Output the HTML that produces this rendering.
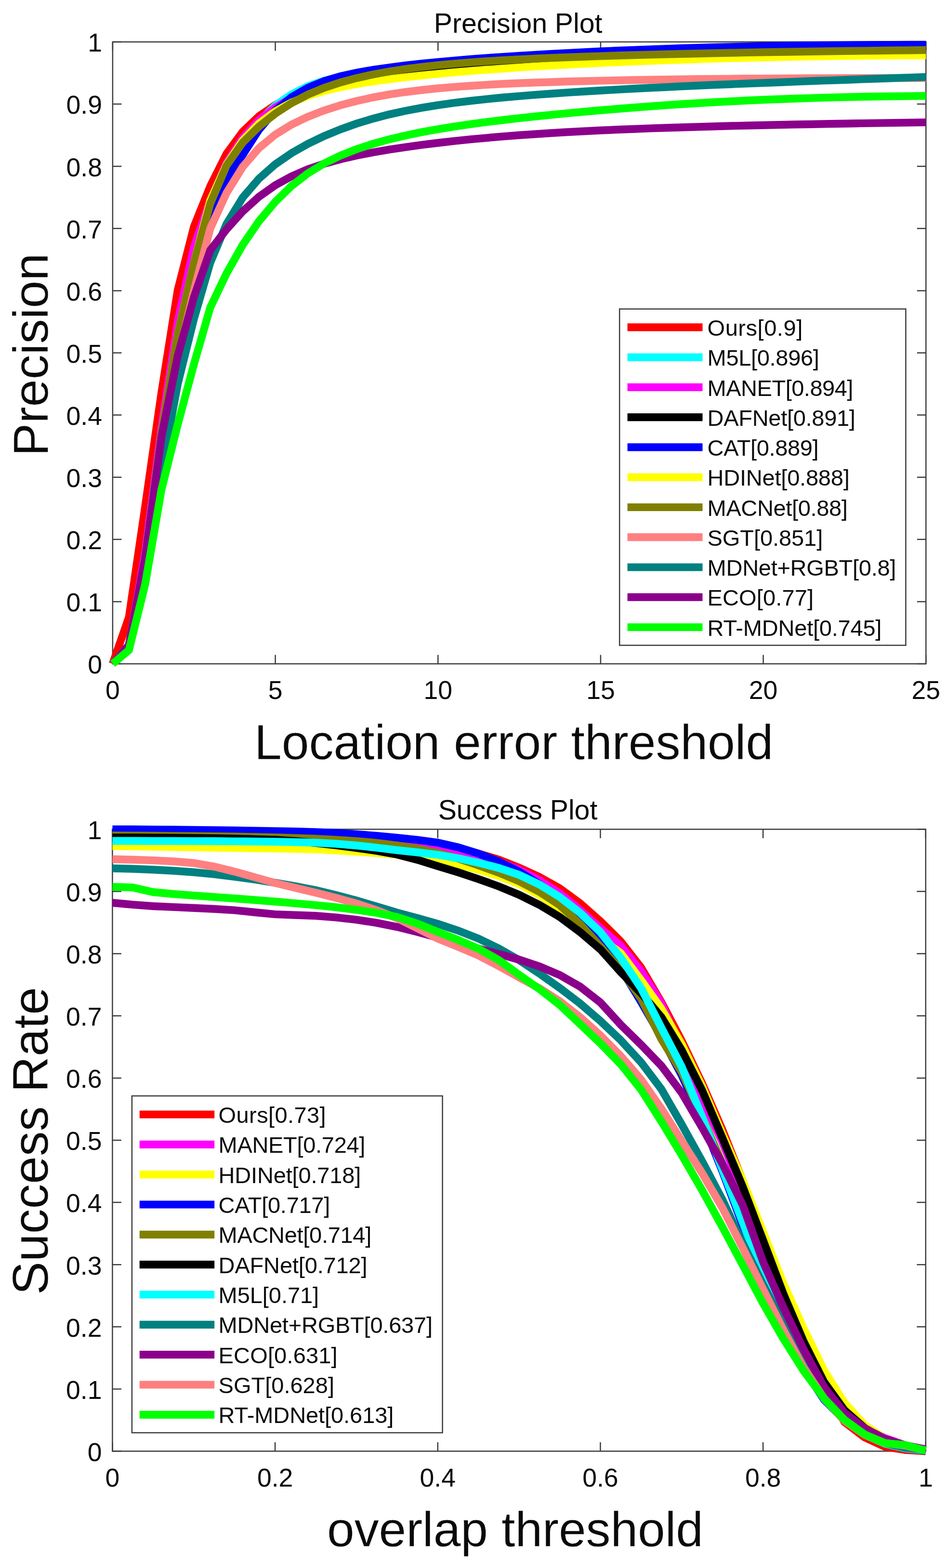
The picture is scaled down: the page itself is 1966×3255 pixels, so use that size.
<!DOCTYPE html>
<html lang="en"><head><meta charset="utf-8"><title>Precision and Success Plots</title>
<style>html,body{margin:0;padding:0;background:#fff}body{width:1966px;height:3255px;overflow:hidden}svg{display:block}text{font-family:"Liberation Sans",Arial,Helvetica,sans-serif;fill:#0a0a0a;stroke:#ffffff;stroke-linejoin:round}.tk{font-size:53.5px;stroke-width:0px}.tt{font-size:57.2px;stroke-width:0px}.al{font-size:102.5px;stroke-width:0.3px}.lg{font-size:47px;stroke-width:0px}.ax{stroke:#3c3c3c;stroke-width:2.5;fill:none}.cv{fill:none;stroke-width:16.2;stroke-linejoin:miter;stroke-linecap:butt;stroke-miterlimit:10}</style></head><body>
<svg width="1966" height="3255" viewBox="0 0 1966 3255">
<rect x="0" y="0" width="1966" height="3255" fill="#ffffff"/>
<g>
<rect class="ax" x="233.9" y="87" width="1688.4" height="1291"/>
<path class="ax" d="M233.9 1378v-18.5M233.9 87v18.5M571.6 1378v-18.5M571.6 87v18.5M909.3 1378v-18.5M909.3 87v18.5M1246.9 1378v-18.5M1246.9 87v18.5M1584.6 1378v-18.5M1584.6 87v18.5M1922.3 1378v-18.5M1922.3 87v18.5M233.9 1378h18.5M1922.3 1378h-18.5M233.9 1248.9h18.5M1922.3 1248.9h-18.5M233.9 1119.8h18.5M1922.3 1119.8h-18.5M233.9 990.7h18.5M1922.3 990.7h-18.5M233.9 861.6h18.5M1922.3 861.6h-18.5M233.9 732.5h18.5M1922.3 732.5h-18.5M233.9 603.4h18.5M1922.3 603.4h-18.5M233.9 474.3h18.5M1922.3 474.3h-18.5M233.9 345.2h18.5M1922.3 345.2h-18.5M233.9 216.1h18.5M1922.3 216.1h-18.5M233.9 87h18.5M1922.3 87h-18.5"/>
<text class="tk" text-anchor="middle" x="233.9" y="1451">0</text>
<text class="tk" text-anchor="middle" x="571.6" y="1451">5</text>
<text class="tk" text-anchor="middle" x="909.3" y="1451">10</text>
<text class="tk" text-anchor="middle" x="1246.9" y="1451">15</text>
<text class="tk" text-anchor="middle" x="1584.6" y="1451">20</text>
<text class="tk" text-anchor="middle" x="1922.3" y="1451">25</text>
<text class="tk" text-anchor="end" x="211.9" y="1398.3">0</text>
<text class="tk" text-anchor="end" x="211.9" y="1269.2">0.1</text>
<text class="tk" text-anchor="end" x="211.9" y="1140.1">0.2</text>
<text class="tk" text-anchor="end" x="211.9" y="1011">0.3</text>
<text class="tk" text-anchor="end" x="211.9" y="881.9">0.4</text>
<text class="tk" text-anchor="end" x="211.9" y="752.8">0.5</text>
<text class="tk" text-anchor="end" x="211.9" y="623.7">0.6</text>
<text class="tk" text-anchor="end" x="211.9" y="494.6">0.7</text>
<text class="tk" text-anchor="end" x="211.9" y="365.5">0.8</text>
<text class="tk" text-anchor="end" x="211.9" y="236.4">0.9</text>
<text class="tk" text-anchor="end" x="211.9" y="107.3">1</text>
<text class="tt" text-anchor="middle" x="1075.6" y="67.8">Precision Plot</text>
<text class="al" text-anchor="middle" style="font-size:102.0px" x="1066.6" y="1575.8">Location error threshold</text>
<text class="al" text-anchor="middle" transform="translate(98.8 736.2) rotate(-90)">Precision</text>
<polyline class="cv" stroke="#ff0000" points="233.9,1378 267.7,1281.2 301.4,1051.4 335.2,815.1 369,602.1 402.7,470.4 436.5,386.5 470.3,319.2 504,273.3 537.8,241.1 571.6,218 605.3,200.9 639.1,188.1 672.9,178.2 706.7,170.3 740.4,163.9 774.2,158.6 808,153.9 841.7,149.7 875.5,145.9 909.3,142.4 943,139.2 976.8,136.3 1010.6,133.7 1044.3,131.2 1078.1,128.9 1111.9,126.8 1145.6,124.8 1179.4,122.9 1213.2,121.2 1246.9,119.6 1280.7,118.1 1314.5,116.7 1348.2,115.4 1382,114.2 1415.8,113.1 1449.5,112.1 1483.3,111.2 1517.1,110.3 1550.9,109.5 1584.6,108.8 1618.4,108.2 1652.2,107.6 1685.9,107.1 1719.7,106.7 1753.5,106.3 1787.2,105.9 1821,105.6 1854.8,105.4 1888.5,105.2 1922.3,105.1"/>
<polyline class="cv" stroke="#00ffff" points="233.9,1378 267.7,1339.3 301.4,1158.5 335.2,913.2 369,706.7 402.7,551.8 436.5,442 470.3,358.7 504,296.8 537.8,251.6 571.6,219 605.3,195.7 639.1,179.1 672.9,167.5 706.7,159.2 740.4,153.1 774.2,148.3 808,144.2 841.7,140.4 875.5,137 909.3,133.7 943,130.7 976.8,127.9 1010.6,125.3 1044.3,122.9 1078.1,120.7 1111.9,118.6 1145.6,116.6 1179.4,114.8 1213.2,113.1 1246.9,111.6 1280.7,110.1 1314.5,108.8 1348.2,107.5 1382,106.4 1415.8,105.3 1449.5,104.3 1483.3,103.4 1517.1,102.6 1550.9,101.8 1584.6,101.2 1618.4,100.5 1652.2,100 1685.9,99.5 1719.7,99 1753.5,98.6 1787.2,98.3 1821,98 1854.8,97.7 1888.5,97.5 1922.3,97.3"/>
<polyline class="cv" stroke="#ff00ff" points="233.9,1378 267.7,1339.3 301.4,1145.6 335.2,887.4 369,667.9 402.7,513 436.5,416.2 470.3,338.6 504,286 537.8,249.3 571.6,223 605.3,203.8 639.1,189.5 672.9,178.6 706.7,170.1 740.4,163.3 774.2,157.6 808,152.6 841.7,148.2 875.5,144.2 909.3,140.6 943,137.3 976.8,134.2 1010.6,131.4 1044.3,128.8 1078.1,126.3 1111.9,124 1145.6,121.8 1179.4,119.7 1213.2,117.8 1246.9,115.9 1280.7,114.2 1314.5,112.5 1348.2,110.9 1382,109.5 1415.8,108.1 1449.5,106.8 1483.3,105.6 1517.1,104.5 1550.9,103.5 1584.6,102.5 1618.4,101.7 1652.2,100.9 1685.9,100.2 1719.7,99.5 1753.5,98.9 1787.2,98.4 1821,98 1854.8,97.6 1888.5,97.3 1922.3,97"/>
<polyline class="cv" stroke="#000000" points="233.9,1378 267.7,1339.3 301.4,1158.5 335.2,913.2 369,706.7 402.7,564.7 436.5,438.2 470.3,360.4 504,306.1 537.8,263.8 571.6,232.3 605.3,209.8 639.1,194.2 672.9,183.8 706.7,176.1 740.4,169.2 774.2,162.1 808,155.3 841.7,149.5 875.5,144.6 909.3,140.4 943,136.9 976.8,133.8 1010.6,131.1 1044.3,128.8 1078.1,126.7 1111.9,124.9 1145.6,123.2 1179.4,121.7 1213.2,120.3 1246.9,119.1 1280.7,117.9 1314.5,116.8 1348.2,115.8 1382,114.9 1415.8,114 1449.5,113.2 1483.3,112.4 1517.1,111.7 1550.9,111 1584.6,110.3 1618.4,109.7 1652.2,109.1 1685.9,108.5 1719.7,107.9 1753.5,107.4 1787.2,106.8 1821,106.3 1854.8,105.8 1888.5,105.3 1922.3,104.8"/>
<polyline class="cv" stroke="#0000ff" points="233.9,1378 267.7,1339.3 301.4,1158.5 335.2,926.2 369,732.5 402.7,590.5 436.5,445.9 470.3,373 504,321.2 537.8,268.9 571.6,229.3 605.3,201.7 639.1,182.3 672.9,168.4 706.7,158.4 740.4,150.9 774.2,145 808,140.2 841.7,135.9 875.5,132.1 909.3,128.8 943,125.7 976.8,122.9 1010.6,120.3 1044.3,118 1078.1,115.8 1111.9,113.8 1145.6,111.8 1179.4,110 1213.2,108.3 1246.9,106.7 1280.7,105.2 1314.5,103.8 1348.2,102.5 1382,101.3 1415.8,100.1 1449.5,99.1 1483.3,98.2 1517.1,97.3 1550.9,96.5 1584.6,95.8 1618.4,95.2 1652.2,94.7 1685.9,94.2 1719.7,93.8 1753.5,93.5 1787.2,93.3 1821,93.1 1854.8,93 1888.5,92.9 1922.3,92.9"/>
<polyline class="cv" stroke="#ffff00" points="233.9,1378 267.7,1339.3 301.4,1158.5 335.2,900.3 369,693.8 402.7,545.3 436.5,416.2 470.3,341.8 504,291.3 537.8,256.2 571.6,231.1 605.3,212.8 639.1,199.2 672.9,188.9 706.7,180.9 740.4,174.4 774.2,169 808,164.4 841.7,160.3 875.5,156.6 909.3,153.2 943,150.1 976.8,147.3 1010.6,144.7 1044.3,142.3 1078.1,140 1111.9,137.9 1145.6,135.9 1179.4,134.1 1213.2,132.3 1246.9,130.7 1280.7,129.1 1314.5,127.7 1348.2,126.3 1382,125 1415.8,123.8 1449.5,122.7 1483.3,121.7 1517.1,120.7 1550.9,119.9 1584.6,119.1 1618.4,118.3 1652.2,117.7 1685.9,117.1 1719.7,116.6 1753.5,116.1 1787.2,115.7 1821,115.4 1854.8,115.1 1888.5,114.8 1922.3,114.7"/>
<polyline class="cv" stroke="#808000" points="233.9,1378 267.7,1339.3 301.4,1158.5 335.2,900.3 369,693.8 402.7,545.3 436.5,422.7 470.3,343.6 504,295.8 537.8,262.5 571.6,235.8 605.3,214 639.1,196.3 672.9,182.3 706.7,171.1 740.4,162 774.2,154.6 808,148.4 841.7,143.3 875.5,139 909.3,135.3 943,132.2 976.8,129.5 1010.6,127.2 1044.3,125.1 1078.1,123.3 1111.9,121.7 1145.6,120.2 1179.4,118.9 1213.2,117.7 1246.9,116.5 1280.7,115.4 1314.5,114.4 1348.2,113.5 1382,112.6 1415.8,111.8 1449.5,111.1 1483.3,110.4 1517.1,109.7 1550.9,109 1584.6,108.4 1618.4,107.9 1652.2,107.3 1685.9,106.8 1719.7,106.4 1753.5,105.9 1787.2,105.5 1821,105.1 1854.8,104.7 1888.5,104.3 1922.3,103.9"/>
<polyline class="cv" stroke="#ff8080" points="233.9,1378 267.7,1339.3 301.4,1171.4 335.2,939.1 369,745.4 402.7,603.4 436.5,474.3 470.3,400.5 504,346.2 537.8,307.3 571.6,279.3 605.3,258.6 639.1,242.4 672.9,229.3 706.7,218.5 740.4,209.6 774.2,202.2 808,196.1 841.7,191.1 875.5,186.9 909.3,183.4 943,180.5 976.8,178.1 1010.6,176 1044.3,174.2 1078.1,172.7 1111.9,171.4 1145.6,170.3 1179.4,169.2 1213.2,168.3 1246.9,167.5 1280.7,166.8 1314.5,166.2 1348.2,165.6 1382,165.1 1415.8,164.6 1449.5,164.2 1483.3,163.8 1517.1,163.5 1550.9,163.2 1584.6,163 1618.4,162.8 1652.2,162.6 1685.9,162.4 1719.7,162.3 1753.5,162.2 1787.2,162.1 1821,162.1 1854.8,162 1888.5,162 1922.3,162"/>
<polyline class="cv" stroke="#008080" points="233.9,1378 267.7,1339.3 301.4,1184.3 335.2,977.8 369,797 402.7,661.5 436.5,545.3 470.3,465 504,410 537.8,370.6 571.6,341 605.3,317.8 639.1,298.7 672.9,282.5 706.7,268.5 740.4,256.5 774.2,246.3 808,237.5 841.7,230.1 875.5,223.8 909.3,218.3 943,213.5 976.8,209.4 1010.6,205.7 1044.3,202.4 1078.1,199.5 1111.9,196.8 1145.6,194.3 1179.4,192 1213.2,189.9 1246.9,187.9 1280.7,186 1314.5,184.2 1348.2,182.4 1382,180.8 1415.8,179.2 1449.5,177.7 1483.3,176.2 1517.1,174.8 1550.9,173.4 1584.6,172.1 1618.4,170.8 1652.2,169.5 1685.9,168.2 1719.7,167 1753.5,165.8 1787.2,164.5 1821,163.4 1854.8,162.2 1888.5,161 1922.3,159.8"/>
<polyline class="cv" stroke="#8b008b" points="233.9,1378 267.7,1339.3 301.4,1158.5 335.2,906.8 369,739 402.7,616.3 436.5,519.5 470.3,476 504,438.6 537.8,408.3 571.6,384.5 605.3,366 639.1,351.4 672.9,339.9 706.7,330.6 740.4,322.9 774.2,316.4 808,310.6 841.7,305.5 875.5,300.8 909.3,296.6 943,292.8 976.8,289.3 1010.6,286.2 1044.3,283.3 1078.1,280.7 1111.9,278.3 1145.6,276.1 1179.4,274.2 1213.2,272.4 1246.9,270.7 1280.7,269.2 1314.5,267.8 1348.2,266.5 1382,265.4 1415.8,264.3 1449.5,263.3 1483.3,262.3 1517.1,261.4 1550.9,260.6 1584.6,259.8 1618.4,259.1 1652.2,258.4 1685.9,257.8 1719.7,257.2 1753.5,256.6 1787.2,256 1821,255.5 1854.8,255 1888.5,254.5 1922.3,254"/>
<polyline class="cv" stroke="#00ff00" points="233.9,1378 267.7,1349.6 301.4,1212.8 335.2,1016.5 369,881 402.7,755.7 436.5,638.3 470.3,567.4 504,508.1 537.8,459 571.6,418.7 605.3,386 639.1,359.9 672.9,339.3 706.7,322.9 740.4,309.6 774.2,298.6 808,289.3 841.7,281.3 875.5,274.3 909.3,268.2 943,262.7 976.8,257.7 1010.6,253.2 1044.3,249.1 1078.1,245.2 1111.9,241.6 1145.6,238.2 1179.4,235 1213.2,231.9 1246.9,228.9 1280.7,226.1 1314.5,223.4 1348.2,220.8 1382,218.4 1415.8,216.2 1449.5,214.1 1483.3,212.2 1517.1,210.4 1550.9,208.7 1584.6,207.2 1618.4,205.8 1652.2,204.6 1685.9,203.5 1719.7,202.5 1753.5,201.7 1787.2,200.9 1821,200.3 1854.8,199.8 1888.5,199.5 1922.3,199.2"/>
<rect x="1286.2" y="641.4" width="594.2" height="698.2" fill="#ffffff" stroke="#3c3c3c" stroke-width="2.5"/>
<line x1="1302.6" y1="679.4" x2="1458.5" y2="679.4" stroke="#ff0000" stroke-width="16.2"/>
<text class="lg" x="1468.6" y="697" style="letter-spacing:0.537px">Ours[0.9]</text>
<line x1="1302.6" y1="741.7" x2="1458.5" y2="741.7" stroke="#00ffff" stroke-width="16.2"/>
<text class="lg" x="1468.6" y="759.3" style="letter-spacing:-0.322px">M5L[0.896]</text>
<line x1="1302.6" y1="803.9" x2="1458.5" y2="803.9" stroke="#ff00ff" stroke-width="16.2"/>
<text class="lg" x="1468.6" y="821.5" style="letter-spacing:-0.491px">MANET[0.894]</text>
<line x1="1302.6" y1="866.2" x2="1458.5" y2="866.2" stroke="#000000" stroke-width="16.2"/>
<text class="lg" x="1468.6" y="883.8" style="letter-spacing:-0.300px">DAFNet[0.891]</text>
<line x1="1302.6" y1="928.4" x2="1458.5" y2="928.4" stroke="#0000ff" stroke-width="16.2"/>
<text class="lg" x="1468.6" y="946" style="letter-spacing:-0.356px">CAT[0.889]</text>
<line x1="1302.6" y1="990.7" x2="1458.5" y2="990.7" stroke="#ffff00" stroke-width="16.2"/>
<text class="lg" x="1468.6" y="1008.3" style="letter-spacing:-0.225px">HDINet[0.888]</text>
<line x1="1302.6" y1="1053" x2="1458.5" y2="1053" stroke="#808000" stroke-width="16.2"/>
<text class="lg" x="1468.6" y="1070.6" style="letter-spacing:-0.364px">MACNet[0.88]</text>
<line x1="1302.6" y1="1115.2" x2="1458.5" y2="1115.2" stroke="#ff8080" stroke-width="16.2"/>
<text class="lg" x="1468.6" y="1132.8" style="letter-spacing:-0.078px">SGT[0.851]</text>
<line x1="1302.6" y1="1177.5" x2="1458.5" y2="1177.5" stroke="#008080" stroke-width="16.2"/>
<text class="lg" x="1468.6" y="1195.1" style="letter-spacing:-0.279px">MDNet+RGBT[0.8]</text>
<line x1="1302.6" y1="1239.7" x2="1458.5" y2="1239.7" stroke="#8b008b" stroke-width="16.2"/>
<text class="lg" x="1468.6" y="1257.3" style="letter-spacing:0.113px">ECO[0.77]</text>
<line x1="1302.6" y1="1302" x2="1458.5" y2="1302" stroke="#00ff00" stroke-width="16.2"/>
<text class="lg" x="1468.6" y="1319.6" style="letter-spacing:-0.214px">RT-MDNet[0.745]</text>
</g>
<g>
<rect class="ax" x="233.4" y="1721.5" width="1688.4" height="1291"/>
<path class="ax" d="M233.4 3012.5v-18.5M233.4 1721.5v18.5M571.1 3012.5v-18.5M571.1 1721.5v18.5M908.8 3012.5v-18.5M908.8 1721.5v18.5M1246.4 3012.5v-18.5M1246.4 1721.5v18.5M1584.1 3012.5v-18.5M1584.1 1721.5v18.5M1921.8 3012.5v-18.5M1921.8 1721.5v18.5M233.4 3012.5h18.5M1921.8 3012.5h-18.5M233.4 2883.4h18.5M1921.8 2883.4h-18.5M233.4 2754.3h18.5M1921.8 2754.3h-18.5M233.4 2625.2h18.5M1921.8 2625.2h-18.5M233.4 2496.1h18.5M1921.8 2496.1h-18.5M233.4 2367h18.5M1921.8 2367h-18.5M233.4 2237.9h18.5M1921.8 2237.9h-18.5M233.4 2108.8h18.5M1921.8 2108.8h-18.5M233.4 1979.7h18.5M1921.8 1979.7h-18.5M233.4 1850.6h18.5M1921.8 1850.6h-18.5M233.4 1721.5h18.5M1921.8 1721.5h-18.5"/>
<text class="tk" text-anchor="middle" x="233.4" y="3085.5">0</text>
<text class="tk" text-anchor="middle" x="571.1" y="3085.5">0.2</text>
<text class="tk" text-anchor="middle" x="908.8" y="3085.5">0.4</text>
<text class="tk" text-anchor="middle" x="1246.4" y="3085.5">0.6</text>
<text class="tk" text-anchor="middle" x="1584.1" y="3085.5">0.8</text>
<text class="tk" text-anchor="middle" x="1921.8" y="3085.5">1</text>
<text class="tk" text-anchor="end" x="211.4" y="3032.8">0</text>
<text class="tk" text-anchor="end" x="211.4" y="2903.7">0.1</text>
<text class="tk" text-anchor="end" x="211.4" y="2774.6">0.2</text>
<text class="tk" text-anchor="end" x="211.4" y="2645.5">0.3</text>
<text class="tk" text-anchor="end" x="211.4" y="2516.4">0.4</text>
<text class="tk" text-anchor="end" x="211.4" y="2387.3">0.5</text>
<text class="tk" text-anchor="end" x="211.4" y="2258.2">0.6</text>
<text class="tk" text-anchor="end" x="211.4" y="2129.1">0.7</text>
<text class="tk" text-anchor="end" x="211.4" y="2000">0.8</text>
<text class="tk" text-anchor="end" x="211.4" y="1870.9">0.9</text>
<text class="tk" text-anchor="end" x="211.4" y="1741.8">1</text>
<text class="tt" text-anchor="middle" x="1075" y="1701">Success Plot</text>
<text class="al" text-anchor="middle" style="font-size:101.8px" x="1069.5" y="3210.2">overlap threshold</text>
<text class="al" text-anchor="middle" style="font-size:103.6px" transform="translate(98.9 2368.5) rotate(-90)">Success Rate</text>
<polyline class="cv" stroke="#ff0000" points="233.4,1740.9 275.6,1741.1 317.8,1741.4 360,1741.7 402.2,1742.2 444.4,1742.7 486.7,1743.3 528.9,1744.1 571.1,1744.7 613.3,1745.3 655.5,1745.8 697.7,1746.5 739.9,1747.3 782.1,1748.9 824.3,1751.2 866.5,1754.5 908.8,1758.9 951,1764.4 993.2,1771.8 1035.4,1784.4 1077.6,1801.3 1119.8,1820.5 1162,1844.1 1204.2,1875.1 1246.4,1912.3 1288.7,1954.3 1330.9,2008.6 1373.1,2080.5 1415.3,2160.6 1457.5,2248.9 1499.7,2345.4 1541.9,2451.5 1584.1,2565.9 1626.3,2674.7 1668.5,2775.4 1710.8,2880 1753,2951.8 1795.2,2984.1 1837.4,3003.5 1879.6,3009.9 1921.8,3012.5"/>
<polyline class="cv" stroke="#ff00ff" points="233.4,1734.4 275.6,1734.6 317.8,1734.9 360,1735.3 402.2,1735.7 444.4,1736.2 486.7,1736.8 528.9,1737.5 571.1,1738.3 613.3,1739 655.5,1739.8 697.7,1740.8 739.9,1742.2 782.1,1744.8 824.3,1748.6 866.5,1753.1 908.8,1758.9 951,1766.9 993.2,1777 1035.4,1789.5 1077.6,1805.4 1119.8,1827.1 1162,1854.5 1204.2,1888.8 1246.4,1927 1288.7,1963.3 1330.9,2016 1373.1,2083.2 1415.3,2179.8 1457.5,2281.1 1499.7,2370.9 1541.9,2474.8 1584.1,2582.6 1626.3,2687.1 1668.5,2785.4 1710.8,2875.2 1753,2929.9 1795.2,2963 1837.4,2985.4 1879.6,3000.2 1921.8,3008.6"/>
<polyline class="cv" stroke="#ffff00" points="233.4,1756.4 275.6,1757 317.8,1757.6 360,1758.3 402.2,1758.9 444.4,1759.6 486.7,1760.2 528.9,1760.8 571.1,1761.5 613.3,1762.2 655.5,1763.2 697.7,1765.2 739.9,1768 782.1,1770.9 824.3,1774.4 866.5,1779.5 908.8,1786 951,1794.6 993.2,1805.4 1035.4,1818.5 1077.6,1835.1 1119.8,1858 1162,1885.5 1204.2,1915.6 1246.4,1947.4 1288.7,1978.5 1330.9,2034.8 1373.1,2094 1415.3,2167.7 1457.5,2254.7 1499.7,2354 1541.9,2450.6 1584.1,2557.1 1626.3,2664.4 1668.5,2757.9 1710.8,2844.7 1753,2911.8 1795.2,2958.3 1837.4,2986.7 1879.6,3002.5 1921.8,3009.9"/>
<polyline class="cv" stroke="#0000ff" points="233.4,1721.5 275.6,1721.7 317.8,1722 360,1722.4 402.2,1722.8 444.4,1723.3 486.7,1723.9 528.9,1724.6 571.1,1725.4 613.3,1726.2 655.5,1727.3 697.7,1729.2 739.9,1731.8 782.1,1735.1 824.3,1739.1 866.5,1743.5 908.8,1749.3 951,1758.8 993.2,1771.8 1035.4,1788.4 1077.6,1809.3 1119.8,1835.3 1162,1866.1 1204.2,1898.7 1246.4,1941 1288.7,2010.1 1330.9,2079.8 1373.1,2153.1 1415.3,2232.1 1457.5,2326.2 1499.7,2431.4 1541.9,2544 1584.1,2655 1626.3,2754.3 1668.5,2841.5 1710.8,2905.5 1753,2947.9 1795.2,2977.1 1837.4,2995.7 1879.6,3005.6 1921.8,3009.9"/>
<polyline class="cv" stroke="#808000" points="233.4,1734.4 275.6,1734.6 317.8,1734.9 360,1735.3 402.2,1735.7 444.4,1736.2 486.7,1736.7 528.9,1737.4 571.1,1738.3 613.3,1739.5 655.5,1741.2 697.7,1743.4 739.9,1746 782.1,1749.8 824.3,1755.1 866.5,1761.8 908.8,1770.6 951,1782.3 993.2,1796.4 1035.4,1811.6 1077.6,1829.4 1119.8,1851.3 1162,1879 1204.2,1918.3 1246.4,1964.6 1288.7,2013.2 1330.9,2072.9 1373.1,2157.4 1415.3,2225.7 1457.5,2318.2 1499.7,2416 1541.9,2518.9 1584.1,2638 1626.3,2736.3 1668.5,2824.6 1710.8,2895 1753,2941.5 1795.2,2972.8 1837.4,2993.1 1879.6,3004.7 1921.8,3009.9"/>
<polyline class="cv" stroke="#000000" points="233.4,1738.5 275.6,1738.6 317.8,1738.9 360,1739.2 402.2,1739.6 444.4,1740.1 486.7,1740.9 528.9,1742 571.1,1743.4 613.3,1746.1 655.5,1749.9 697.7,1754.6 739.9,1760.2 782.1,1766.3 824.3,1773.8 866.5,1784.8 908.8,1797.9 951,1810.8 993.2,1824.8 1035.4,1840 1077.6,1857.4 1119.8,1878.4 1162,1903.5 1204.2,1934.9 1246.4,1970.7 1288.7,2017.9 1330.9,2061.5 1373.1,2111.6 1415.3,2180.3 1457.5,2263.3 1499.7,2362.2 1541.9,2463.5 1584.1,2574.5 1626.3,2685.8 1668.5,2785.2 1710.8,2869.1 1753,2927.3 1795.2,2964.4 1837.4,2989.3 1879.6,3004.6 1921.8,3012.5"/>
<polyline class="cv" stroke="#00ffff" points="233.4,1745.6 275.6,1745.7 317.8,1745.8 360,1745.9 402.2,1746 444.4,1746.2 486.7,1746.5 528.9,1746.9 571.1,1747.3 613.3,1748.1 655.5,1749.3 697.7,1751.6 739.9,1755.1 782.1,1759.7 824.3,1764.9 866.5,1769.4 908.8,1774.4 951,1781.7 993.2,1790.8 1035.4,1801.8 1077.6,1816 1119.8,1836.1 1162,1862.2 1204.2,1894.8 1246.4,1935 1288.7,1988.2 1330.9,2051.2 1373.1,2133.7 1415.3,2214.6 1457.5,2318.7 1499.7,2427.7 1541.9,2537 1584.1,2649.7 1626.3,2750.7 1668.5,2838.1 1710.8,2903.8 1753,2948.6 1795.2,2978.3 1837.4,2997 1879.6,3006.8 1921.8,3011.2"/>
<polyline class="cv" stroke="#008080" points="233.4,1802.6 275.6,1803.7 317.8,1805.4 360,1807.6 402.2,1810.6 444.4,1814.7 486.7,1819.9 528.9,1825.8 571.1,1832.5 613.3,1839.8 655.5,1848 697.7,1858.1 739.9,1869.4 782.1,1881.8 824.3,1894.5 866.5,1905.8 908.8,1917.7 951,1931.8 993.2,1948.3 1035.4,1968.9 1077.6,1993 1119.8,2021 1162,2050.9 1204.2,2083.1 1246.4,2119.3 1288.7,2159.4 1330.9,2205.2 1373.1,2261.1 1415.3,2334.4 1457.5,2410.4 1499.7,2490.4 1541.9,2580.8 1584.1,2666.8 1626.3,2745.9 1668.5,2831.5 1710.8,2901.6 1753,2947.9 1795.2,2977.3 1837.4,2995.7 1879.6,3005.6 1921.8,3009.9"/>
<polyline class="cv" stroke="#8b008b" points="233.4,1874.1 275.6,1878 317.8,1881.1 360,1883 402.2,1884.8 444.4,1886.9 486.7,1889.5 528.9,1893.9 571.1,1898 613.3,1899.6 655.5,1901.2 697.7,1904.5 739.9,1909.2 782.1,1915.8 824.3,1924.2 866.5,1934.6 908.8,1946.1 951,1957.7 993.2,1969.4 1035.4,1980.4 1077.6,1992.1 1119.8,2006.1 1162,2024 1204.2,2048.1 1246.4,2081 1288.7,2127.3 1330.9,2168.6 1373.1,2212.6 1415.3,2268.7 1457.5,2340.5 1499.7,2415.7 1541.9,2501.6 1584.1,2619.3 1626.3,2714.4 1668.5,2801.3 1710.8,2879.3 1753,2932.5 1795.2,2965 1837.4,2986.7 1879.6,3000.8 1921.8,3008.6"/>
<polyline class="cv" stroke="#ff8080" points="233.4,1783.7 275.6,1784.6 317.8,1786 360,1788.2 402.2,1791.6 444.4,1799 486.7,1809.3 528.9,1821 571.1,1833 613.3,1843.2 655.5,1853.2 697.7,1863.8 739.9,1875.5 782.1,1889.6 824.3,1906.1 866.5,1926.9 908.8,1948.3 951,1965.4 993.2,1983.4 1035.4,2005.4 1077.6,2028.8 1119.8,2051.5 1162,2078.4 1204.2,2111.5 1246.4,2149.4 1288.7,2192.2 1330.9,2241 1373.1,2301.6 1415.3,2368.6 1457.5,2435 1499.7,2507.1 1541.9,2590.1 1584.1,2676.1 1626.3,2760.7 1668.5,2839.2 1710.8,2903 1753,2949.2 1795.2,2978.5 1837.4,2995.7 1879.6,3000.9 1921.8,3011.2"/>
<polyline class="cv" stroke="#00ff00" points="233.4,1841 275.6,1842.3 317.8,1851.9 360,1855.9 402.2,1859 444.4,1862.1 486.7,1865.1 528.9,1868.3 571.1,1871.6 613.3,1875.2 655.5,1879 697.7,1883.4 739.9,1888.6 782.1,1895 824.3,1903.5 866.5,1917.4 908.8,1934.5 951,1951.3 993.2,1969.4 1035.4,1992.9 1077.6,2023.6 1119.8,2053.2 1162,2086 1204.2,2125.8 1246.4,2165.8 1288.7,2209.3 1330.9,2261.9 1373.1,2328.1 1415.3,2397.7 1457.5,2470.6 1499.7,2547.1 1541.9,2626.1 1584.1,2705.6 1626.3,2779.1 1668.5,2846 1710.8,2902.7 1753,2947.3 1795.2,2977.9 1837.4,2995.7 1879.6,2999.8 1921.8,3011.2"/>
<rect x="273.9" y="2275" width="644.7" height="699.2" fill="#ffffff" stroke="#3c3c3c" stroke-width="2.5"/>
<line x1="289.7" y1="2313.5" x2="445.2" y2="2313.5" stroke="#ff0000" stroke-width="16.2"/>
<text class="lg" x="453.6" y="2331.1" style="letter-spacing:0.400px">Ours[0.73]</text>
<line x1="289.7" y1="2375.8" x2="445.2" y2="2375.8" stroke="#ff00ff" stroke-width="16.2"/>
<text class="lg" x="453.6" y="2393.4" style="letter-spacing:-0.318px">MANET[0.724]</text>
<line x1="289.7" y1="2438.2" x2="445.2" y2="2438.2" stroke="#ffff00" stroke-width="16.2"/>
<text class="lg" x="453.6" y="2455.8" style="letter-spacing:-0.183px">HDINet[0.718]</text>
<line x1="289.7" y1="2500.5" x2="445.2" y2="2500.5" stroke="#0000ff" stroke-width="16.2"/>
<text class="lg" x="453.6" y="2518.1" style="letter-spacing:-0.289px">CAT[0.717]</text>
<line x1="289.7" y1="2562.8" x2="445.2" y2="2562.8" stroke="#808000" stroke-width="16.2"/>
<text class="lg" x="453.6" y="2580.4" style="letter-spacing:-0.308px">MACNet[0.714]</text>
<line x1="289.7" y1="2625.2" x2="445.2" y2="2625.2" stroke="#000000" stroke-width="16.2"/>
<text class="lg" x="453.6" y="2642.8" style="letter-spacing:-0.158px">DAFNet[0.712]</text>
<line x1="289.7" y1="2687.5" x2="445.2" y2="2687.5" stroke="#00ffff" stroke-width="16.2"/>
<text class="lg" x="453.6" y="2705.1" style="letter-spacing:-0.062px">M5L[0.71]</text>
<line x1="289.7" y1="2749.8" x2="445.2" y2="2749.8" stroke="#008080" stroke-width="16.2"/>
<text class="lg" x="453.6" y="2767.4" style="letter-spacing:-0.225px">MDNet+RGBT[0.637]</text>
<line x1="289.7" y1="2812.1" x2="445.2" y2="2812.1" stroke="#8b008b" stroke-width="16.2"/>
<text class="lg" x="453.6" y="2829.7" style="letter-spacing:0.156px">ECO[0.631]</text>
<line x1="289.7" y1="2874.5" x2="445.2" y2="2874.5" stroke="#ff8080" stroke-width="16.2"/>
<text class="lg" x="453.6" y="2892.1" style="letter-spacing:0.000px">SGT[0.628]</text>
<line x1="289.7" y1="2936.8" x2="445.2" y2="2936.8" stroke="#00ff00" stroke-width="16.2"/>
<text class="lg" x="453.6" y="2954.4" style="letter-spacing:-0.079px">RT-MDNet[0.613]</text>
</g>
</svg></body></html>
